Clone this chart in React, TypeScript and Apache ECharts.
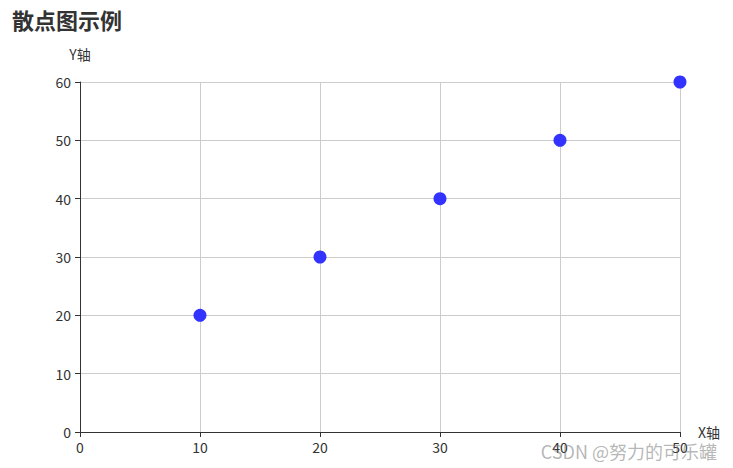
import * as echarts from 'echarts';
import { useEffect, useRef } from 'react';

const xValues = [10, 20, 30, 40, 50];
const yValues = [20, 30, 40, 50, 60];

const font = '"Noto Sans CJK SC", "Noto Sans", sans-serif';

function App() {
  const chartRef = useRef<HTMLDivElement>(null);

  useEffect(() => {
    document.body.style.margin = '0';
    const myChart = echarts.init(chartRef.current, null, { renderer: 'svg' });

    const option = {
      animation: false,
      textStyle: { fontFamily: font },
      title: {
        text: '散点图示例',
        left: 7,
        top: 3,
        textStyle: { fontSize: 22, fontWeight: 'bold', color: '#333', fontFamily: font },
      },
      grid: { left: 80, right: 53, top: 82, bottom: 36, containLabel: false },
      xAxis: {
        type: 'value',
        name: 'X轴',
        min: 0,
        max: 50,
        interval: 10,
        nameGap: 18,
        nameTextStyle: { fontSize: 14, color: '#333', padding: [0, 0, 2, 0] },
        axisLine: { show: true, lineStyle: { color: '#333' } },
        axisTick: { show: true, lineStyle: { color: '#333' } },
        axisLabel: { fontSize: 14, color: '#333', margin: 8 },
        splitLine: { show: true, lineStyle: { color: '#ccc' } },
      },
      yAxis: {
        type: 'value',
        name: 'Y轴',
        min: 0,
        max: 60,
        interval: 10,
        nameGap: 21,
        nameTextStyle: { fontSize: 14, color: '#333' },
        axisLine: { show: true, lineStyle: { color: '#333' } },
        axisTick: { show: true, lineStyle: { color: '#333' } },
        axisLabel: { fontSize: 14, color: '#333', margin: 9 },
        splitLine: { show: true, lineStyle: { color: '#ccc' } },
      },
      graphic: [
        {
          type: 'text',
          right: 16,
          bottom: 8,
          style: {
            text: 'CSDN @努力的可乐罐',
            fontSize: 18,
            fill: 'rgba(120,120,120,0.55)',
            fontFamily: font,
          },
          z: 100,
        },
      ],
      series: [
        {
          type: 'scatter',
          symbolSize: 13,
          itemStyle: { color: '#3333ff', opacity: 1 },
          data: xValues.map((x, i) => [x, yValues[i]]),
        },
      ],
    };

    myChart.setOption(option);

    return () => {
      myChart.dispose();
    };
  }, []);

  return <div ref={chartRef} style={{ width: '733px', height: '468px' }}></div>;
}

export default App;
